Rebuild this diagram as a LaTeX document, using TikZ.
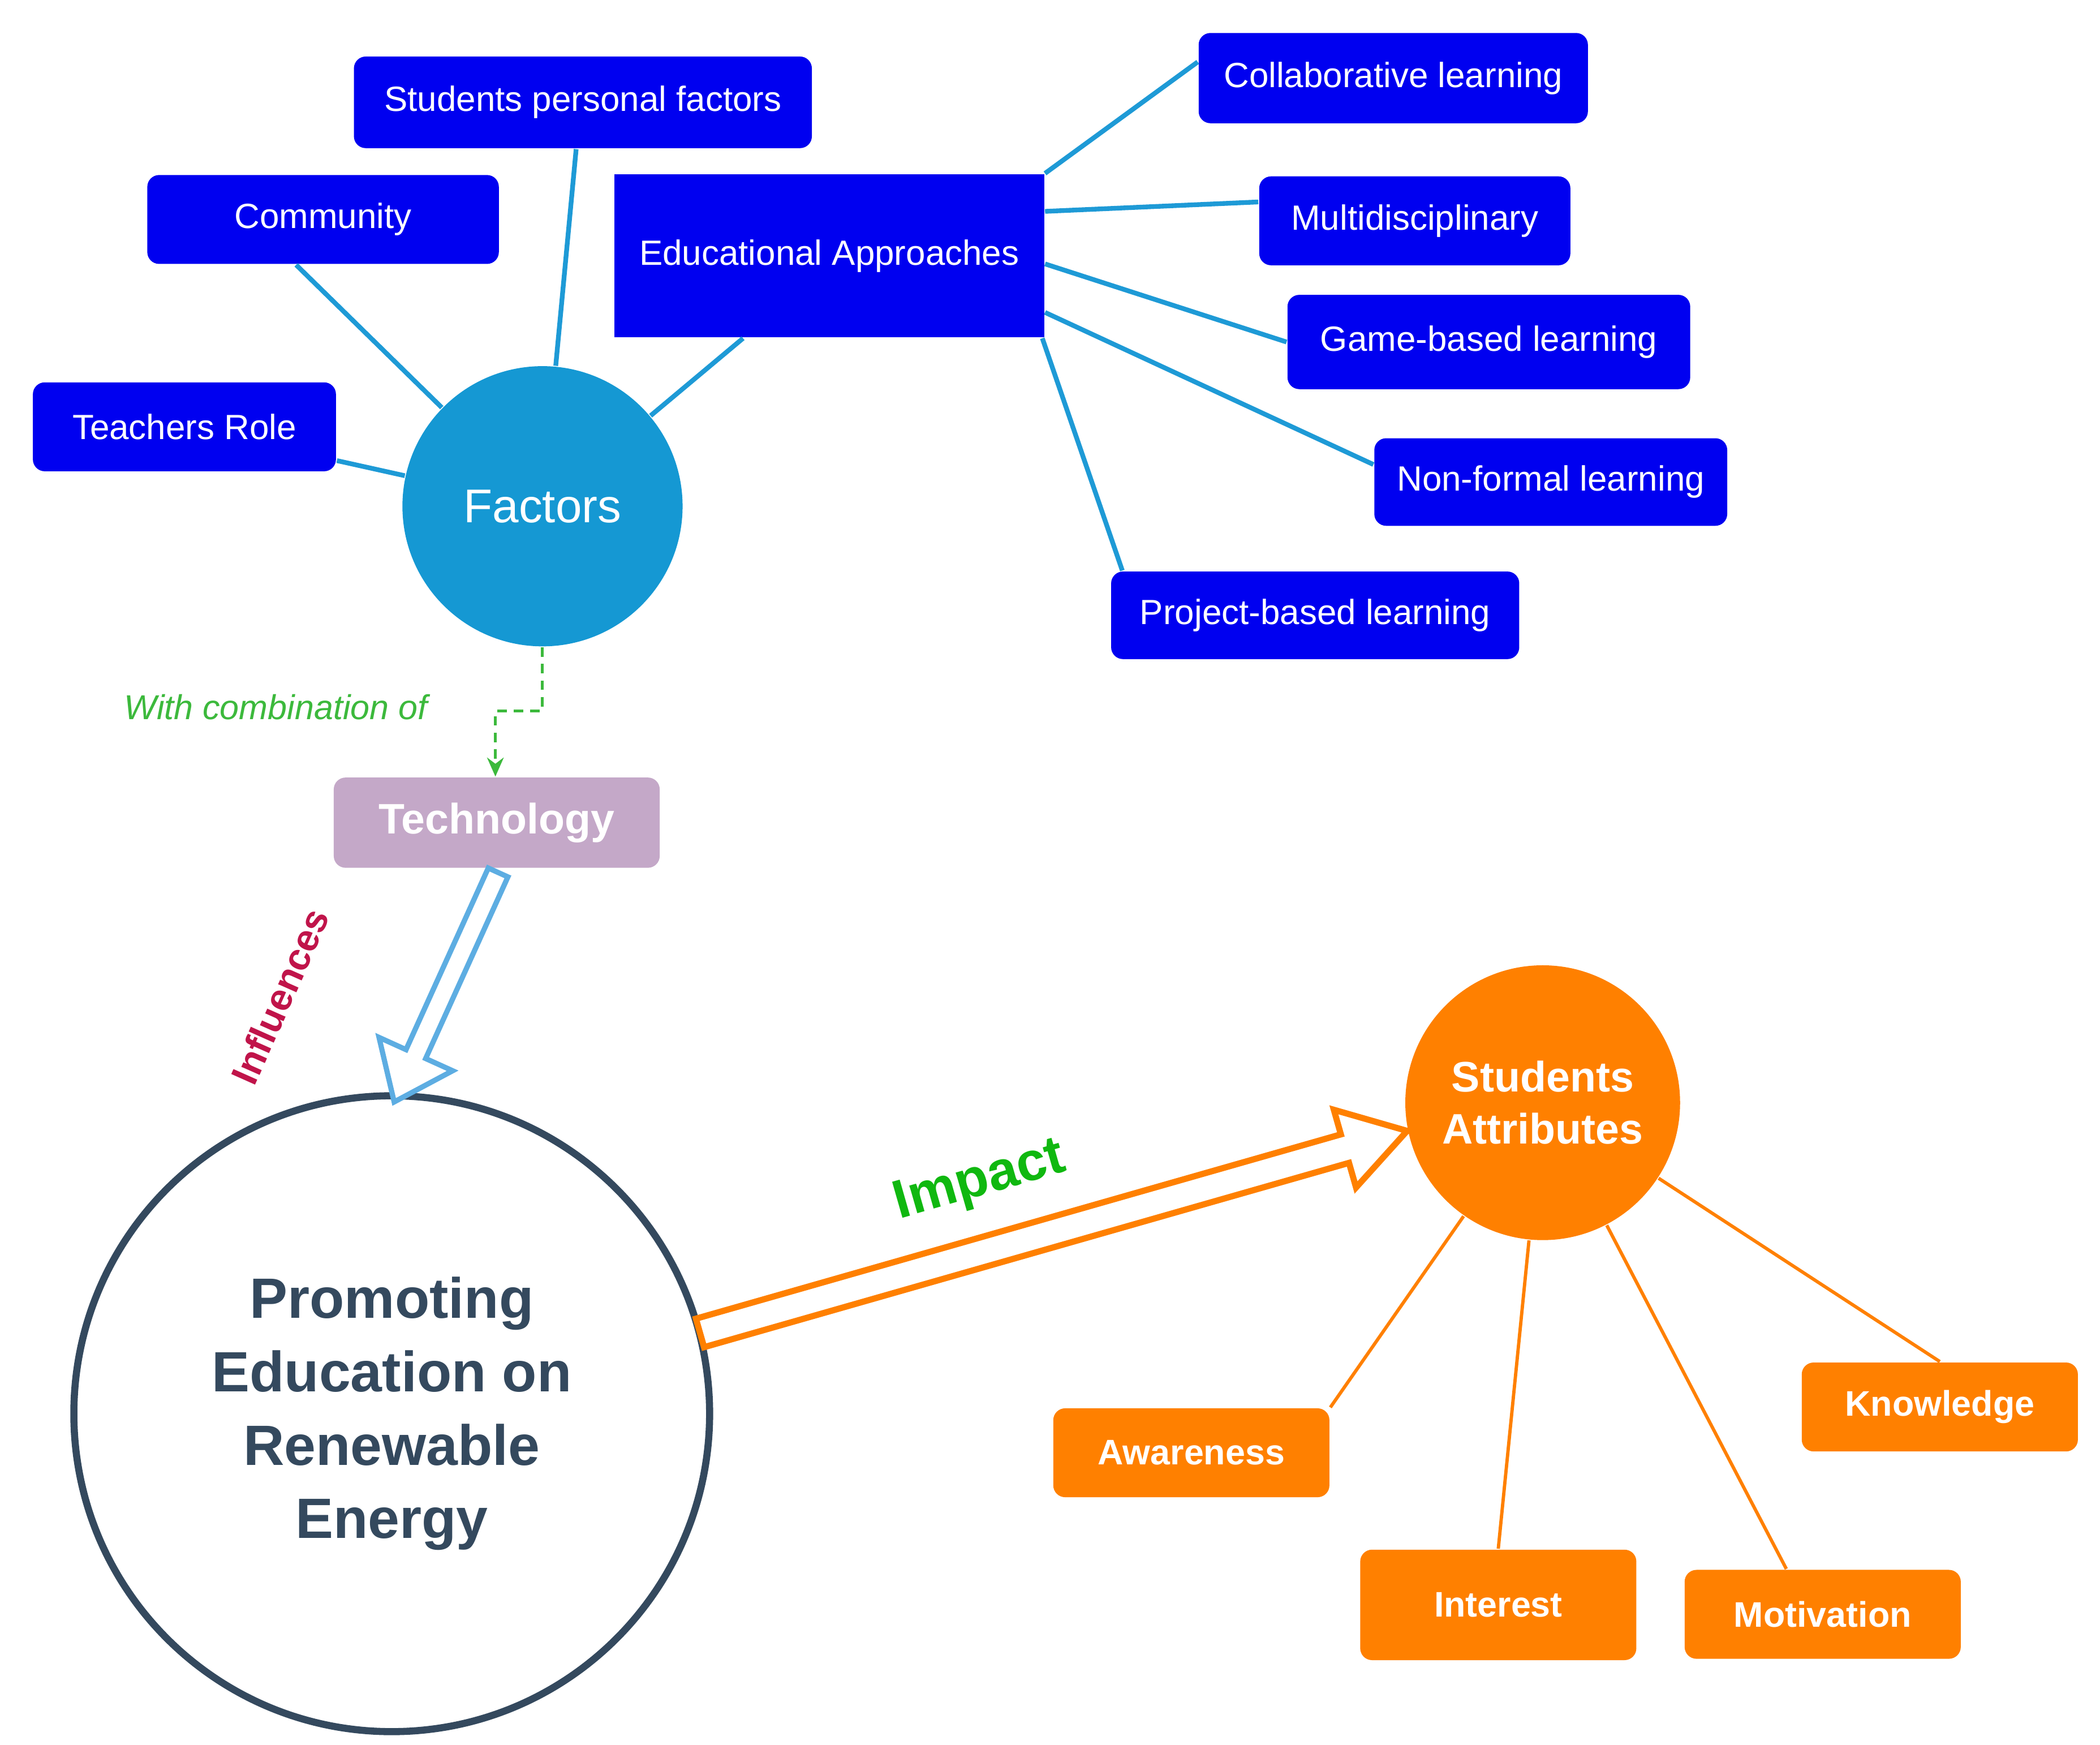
\documentclass[tikz,border=0pt]{standalone}
\usepackage{fontspec}
\setmainfont{Liberation Sans}
\usetikzlibrary{calc,arrows.meta}
\definecolor{bbox}{HTML}{0000F0}
\definecolor{lblue}{HTML}{1E9AD6}
\definecolor{fac}{HTML}{1598D3}
\definecolor{lil}{HTML}{C4A8C8}
\definecolor{dark}{HTML}{34495E}
\definecolor{org}{HTML}{FF8000}
\definecolor{grn}{HTML}{3CB93C}
\definecolor{imp}{HTML}{10B810}
\definecolor{crim}{HTML}{C0144A}
\definecolor{hb}{HTML}{5DADE2}
\begin{document}
\begin{tikzpicture}[x=0.01cm,y=-0.01cm,
 bb/.style={draw=none,fill=bbox,rounded corners=2.5pt,text=white,font=\fontsize{7.4}{8}\selectfont,inner sep=0pt},
 ob/.style={fill=org,rounded corners=2.5pt,text=white,font=\bfseries\fontsize{7.5}{9}\selectfont,minimum width=2.05cm,minimum height=0.66cm,inner sep=0pt},
 bl/.style={lblue,line width=1pt},
 ol/.style={org,line width=0.7pt}]
\useasboundingbox (0,0) rectangle (1560,1296);
% blue boxes
\node[bb,minimum width=3.4cm,minimum height=0.68cm] (spf) at (433,76) {Students personal factors};
\node[bb,minimum width=2.61cm,minimum height=0.66cm] (com) at (240,163) {Community};
\node[bb,minimum width=2.25cm,minimum height=0.66cm] (tr) at (137,317) {Teachers Role};
\node[bb,rounded corners=0pt,minimum width=3.19cm,minimum height=1.21cm] (ea) at (616,190) {Educational Approaches};
\node[bb,minimum width=2.89cm,minimum height=0.67cm] (col) at (1035,58) {Collaborative learning};
\node[bb,minimum width=2.31cm,minimum height=0.66cm] (mul) at (1051,164) {Multidisciplinary};
\node[bb,minimum width=2.99cm,minimum height=0.70cm] (gam) at (1106,254) {Game-based learning};
\node[bb,minimum width=2.62cm,minimum height=0.65cm] (nfl) at (1152,358) {Non-formal learning};
\node[bb,minimum width=3.03cm,minimum height=0.65cm] (pbl) at (977,457) {Project-based learning};
\node[circle,fill=fac,minimum size=2.08cm,inner sep=0pt,text=white,font=\fontsize{10}{12}\selectfont] (fac) at (403,376) {Factors};
% connectors
\draw[bl] (fac) -- ([xshift=-0.2cm]com.south);
\draw[bl] (fac) -- ([xshift=-0.05cm]spf.south);
\draw[bl] (fac) -- (tr);
\draw[bl] (fac) -- ([xshift=-0.64cm]ea.south);
\draw[bl] (ea.north east) -- ([yshift=0.12cm]col.west);
\draw[bl] ([yshift=0.33cm]ea.east) -- ([yshift=0.14cm]mul.west);
\draw[bl] ([yshift=-0.06cm]ea.east) -- (gam.west);
\draw[bl] ([yshift=-0.42cm]ea.east) -- ([yshift=0.13cm]nfl.west);
\draw[bl] ([xshift=-0.02cm]ea.south east) -- ([xshift=0.09cm]pbl.north west);
% technology
\node[fill=lil,rounded corners=2.5pt,minimum width=2.42cm,minimum height=0.67cm,inner sep=0pt,text=white,font=\bfseries\fontsize{9}{10}\selectfont] (tech) at (369,611) {Technology};
\coordinate (d1) at (403,528);
\coordinate (d2) at (368,528);
\draw[grn,line width=0.6pt,dash pattern=on 2pt off 1.5pt,-{Stealth[length=4pt,width=3.5pt]}] (fac.south) -- (d1) -- (d2) -- (tech.north -| d2);
\node[grn,font=\itshape\fontsize{7.3}{9}\selectfont] (wc) at (205,525) {With combination of};
% promoting
\node[circle,draw=dark,line width=1.5pt,minimum size=4.72cm,inner sep=0pt,text=dark,align=center,font=\bfseries\fontsize{12}{15.5}\selectfont] (pro) at (291,1050) {Promoting\\Education on\\Renewable\\Energy};
% hollow arrow tech -> pro
\coordinate (ta) at (370,648);
\coordinate (tb) at (293,818);
\draw[hb,line width=1.1pt,fill=white,line join=miter]
  let \p1=(ta),\p2=(tb),\n1={atan2(\y2-\y1,\x2-\x1)} in
  [shift={(ta)},rotate=\n1]
  (0cm,-0.08cm) -- (1.48cm,-0.08cm) -- (1.48cm,-0.3cm) -- (1.87cm,0cm) -- (1.48cm,0.3cm) -- (1.48cm,0.08cm) -- (0cm,0.08cm) -- cycle;
\node[crim,rotate=66,font=\bfseries\fontsize{8}{9}\selectfont] (inf) at (208,740) {Influences};
% students attributes
\node[circle,fill=org,minimum size=2.04cm,inner sep=0pt,text=white,align=center,font=\bfseries\fontsize{9}{11}\selectfont] (sa) at (1146,819) {Students\\Attributes};
% orange hollow arrow
\coordinate (oa) at (520,990);
\coordinate (ob) at (1045,840);
\draw[org,line width=1.3pt,fill=white,line join=miter]
  let \p1=(oa),\p2=(ob),\n1={atan2(\y2-\y1,\x2-\x1)} in
  [shift={(oa)},rotate=\n1]
  (0cm,-0.11cm) -- (4.98cm,-0.11cm) -- (4.98cm,-0.3cm) -- (5.46cm,0cm) -- (4.98cm,0.3cm) -- (4.98cm,0.11cm) -- (0cm,0.11cm) -- cycle;
\node[imp,rotate=16,font=\bfseries\fontsize{11.5}{13}\selectfont] (impact) at (728,878) {Impact};
% orange boxes
\node[ob] (aw) at (885,1079) {Awareness};
\node[ob,minimum height=0.82cm] (int) at (1113,1192) {Interest};
\node[ob] (mot) at (1354,1199) {Motivation};
\node[ob] (kn) at (1441,1045) {Knowledge};
\draw[ol] (sa) -- (aw.north east);
\draw[ol] (sa) -- (int.north);
\draw[ol] (sa) -- ([xshift=-0.27cm]mot.north);
\draw[ol] (sa) -- (kn.north);
\end{tikzpicture}
\end{document}
